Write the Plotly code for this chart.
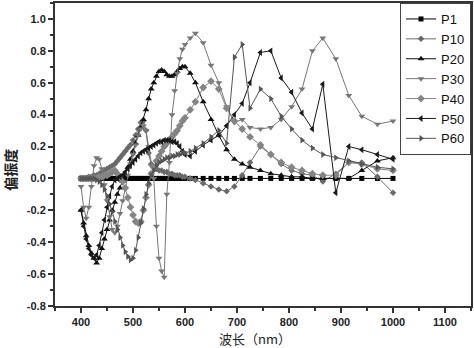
import plotly.graph_objects as go

# wavelength grid (nm)
wavelength = [400, 405, 410, 415, 420, 425, 430, 435, 440, 445, 450, 455, 460, 465, 470,
              475, 480, 485, 490, 495, 500, 505, 510, 515, 520, 525, 530, 535, 540, 545,
              550, 555, 560, 565, 570, 575, 580, 585, 590, 595, 600,
              610, 620, 635, 650, 665, 680, 695, 710, 725, 745, 765, 785, 805, 825, 845,
              865, 890, 915, 940, 970, 1000]

p1 = [0.00, 0.00, 0.00, 0.00, 0.00, 0.00, 0.00, 0.00, 0.00, 0.00, 0.00, 0.00, 0.00, 0.00, 0.00,
      0.00, 0.00, 0.00, 0.00, 0.00, 0.00, 0.00, 0.00, 0.00, 0.00, 0.00, 0.00, 0.00, 0.00, 0.00,
      0.00, 0.00, 0.00, 0.00, 0.00, 0.00, 0.00, 0.00, 0.00, 0.00, 0.00,
      0.00, 0.00, 0.00, 0.00, 0.00, 0.00, 0.00, 0.00, 0.00, 0.00, 0.00, 0.00, 0.00, 0.00, 0.00,
      0.00, 0.00, 0.00, 0.00, 0.00, 0.00]

p10 = [0.00, 0.00, 0.00, 0.01, 0.01, 0.02, 0.02, 0.03, 0.04, 0.05, 0.06, 0.07, 0.08, 0.09, 0.11,
       0.13, 0.15, 0.17, 0.19, 0.21, 0.24, 0.27, 0.31, 0.35, 0.36, 0.30, 0.16, 0.09, 0.07, 0.06,
       0.05, 0.05, 0.04, 0.04, 0.03, 0.03, 0.02, 0.02, 0.02, 0.01, 0.01,
       0.00, -0.01, -0.03, -0.05, -0.07, -0.08, -0.05, 0.02, 0.10, 0.20, 0.15, 0.09, 0.05, 0.03, 0.02,
       -0.02, 0.03, 0.10, 0.10, 0.01, -0.09]

p20 = [-0.20, -0.28, -0.36, -0.42, -0.47, -0.50, -0.53, -0.50, -0.44, -0.38, -0.32, -0.26, -0.20, -0.15, -0.10,
       -0.06, -0.02, 0.02, 0.07, 0.12, 0.17, 0.22, 0.27, 0.32, 0.37, 0.43, 0.50, 0.56, 0.60, 0.64,
       0.67, 0.68, 0.67, 0.65, 0.64, 0.64, 0.65, 0.67, 0.69, 0.70, 0.70,
       0.66, 0.60, 0.48, 0.37, 0.27, 0.18, 0.12, 0.09, 0.07, 0.05, 0.03, 0.02, 0.01, 0.01, 0.00,
       0.00, 0.00, 0.00, 0.05, 0.11, 0.13]

p30 = [-0.05, -0.18, -0.25, -0.18, -0.05, 0.08, 0.13, 0.12, 0.06, -0.04, -0.14, -0.24, -0.32, -0.34, -0.30,
       -0.22, -0.14, -0.06, 0.02, 0.09, 0.15, 0.21, 0.27, 0.31, 0.33, 0.30, 0.20, 0.08, 0.00, -0.30,
       -0.50, -0.58, -0.62, -0.10, 0.10, 0.40, 0.55, 0.66, 0.75, 0.81, 0.84,
       0.88, 0.91, 0.85, 0.71, 0.60, 0.45, 0.35, 0.37, 0.32, 0.31, 0.32, 0.37, 0.45, 0.56, 0.80,
       0.88, 0.75, 0.52, 0.39, 0.34, 0.36]

p40 = [0.00, 0.00, 0.00, 0.00, 0.00, 0.00, 0.00, 0.01, 0.01, 0.02, 0.02, 0.03, 0.04, 0.05, 0.03,
       0.01, -0.02, -0.06, -0.12, -0.18, -0.23, -0.27, -0.28, -0.27, -0.20, -0.12, -0.04, 0.03, 0.07, 0.11,
       0.14, 0.17, 0.20, 0.22, 0.24, 0.26, 0.28, 0.30, 0.33, 0.36, 0.38,
       0.43, 0.48, 0.57, 0.61, 0.56, 0.44, 0.36, 0.31, 0.26, 0.21, 0.15, 0.10, 0.07, 0.05, 0.03,
       0.02, 0.02, 0.10, 0.09, 0.06, 0.05]

p50 = [-0.20, -0.30, -0.38, -0.44, -0.48, -0.50, -0.48, -0.42, -0.34, -0.26, -0.18, -0.11, -0.05, -0.01, 0.00,
       0.01, 0.02, 0.04, 0.06, 0.08, 0.10, 0.12, 0.14, 0.16, 0.17, 0.18, 0.19, 0.20, 0.21, 0.22,
       0.23, 0.23, 0.24, 0.24, 0.24, 0.23, 0.23, 0.22, 0.20, 0.17, 0.15,
       0.14, 0.17, 0.21, 0.24, 0.27, 0.33, 0.40, 0.47, 0.60, 0.79, 0.80, 0.63, 0.54, 0.41, 0.31,
       0.59, -0.09, 0.20, 0.18, 0.15, 0.12]

p60 = [0.00, 0.00, 0.00, 0.00, 0.00, 0.00, -0.01, -0.02, -0.04, -0.07, -0.11, -0.16, -0.21, -0.27, -0.32,
       -0.37, -0.42, -0.46, -0.49, -0.51, -0.50, -0.45, -0.37, -0.28, -0.19, -0.10, -0.03, 0.02, 0.05, 0.08,
       0.10, 0.11, 0.12, 0.13, 0.13, 0.14, 0.14, 0.15, 0.15, 0.16, 0.16,
       0.17, 0.19, 0.22, 0.26, 0.30, 0.22, 0.76, 0.84, 0.44, 0.56, 0.50, 0.39, 0.31, 0.24, 0.19,
       0.15, 0.13, 0.11, 0.09, 0.07, 0.06]

series_names = ["P1", "P10", "P20", "P30", "P40", "P50", "P60"]
series_values = [p1, p10, p20, p30, p40, p50, p60]
series_colors = ["#000000", "#6a6a6a", "#111111", "#777777", "#858585", "#1a1a1a", "#555555"]
series_symbols = ["square", "diamond", "triangle-up", "triangle-down", "diamond",
                  "triangle-left", "triangle-right"]
series_sizes = [5, 5, 6, 6, 6, 6, 6]

x_ticks = [400, 500, 600, 700, 800, 900, 1000, 1100]
y_ticks = [-0.8, -0.6, -0.4, -0.2, 0.0, 0.2, 0.4, 0.6, 0.8, 1.0]

fig = go.Figure()
for name, vals, col, sym, sz in zip(series_names, series_values, series_colors,
                                    series_symbols, series_sizes):
    fig.add_trace(go.Scatter(
        x=wavelength, y=vals, name=name, mode="lines+markers",
        line=dict(color=col, width=1),
        marker=dict(symbol=sym, size=sz, color=col, line=dict(width=0)),
    ))

tick_font = dict(family="Liberation Sans, Arial, sans-serif", size=11, color="#222", weight="bold")
axis_common = dict(
    showline=True, linecolor="#333", linewidth=2, mirror=True,
    ticks="outside", ticklen=5, tickwidth=1.5, tickcolor="#333",
    showgrid=False, zeroline=False, tickfont=tick_font,
)

fig.update_xaxes(range=[350, 1150], tickvals=x_ticks, ticktext=[str(v) for v in x_ticks],
                 minor=dict(ticks="outside", ticklen=3, tickwidth=1.5, tickcolor="#333", dtick=50, tick0=350),
                 **axis_common)
fig.update_yaxes(range=[-0.8, 1.1], tickvals=y_ticks, ticktext=[f"{v:.1f}" for v in y_ticks],
                 minor=dict(ticks="outside", ticklen=3, tickwidth=1.5, tickcolor="#333", dtick=0.1, tick0=-0.8),
                 **axis_common)

fig.update_layout(
    width=474, height=348,
    margin=dict(l=55, r=3, t=1, b=42),
    paper_bgcolor="white", plot_bgcolor="white",
    showlegend=True,
    legend=dict(x=1, y=1, xanchor="right", yanchor="top",
                bgcolor="white", bordercolor="#444", borderwidth=1,
                font=dict(family="Liberation Sans, Arial, sans-serif", size=13, color="#111"),
                tracegroupgap=0, itemwidth=30),
    annotations=[
        dict(text="波长（nm）", xref="paper", yref="paper", x=0.48, y=0, yshift=-32,
             xanchor="center", yanchor="middle", showarrow=False,
             font=dict(family="Noto Sans CJK SC", size=13, color="#222")),
        dict(text="偏振度", xref="paper", yref="paper", x=0, y=0.45, xshift=-45,
             xanchor="center", yanchor="middle", showarrow=False, textangle=-90,
             font=dict(family="Noto Sans CJK SC", size=14, color="#222", weight="bold")),
    ],
)

fig.write_html("out.html")
